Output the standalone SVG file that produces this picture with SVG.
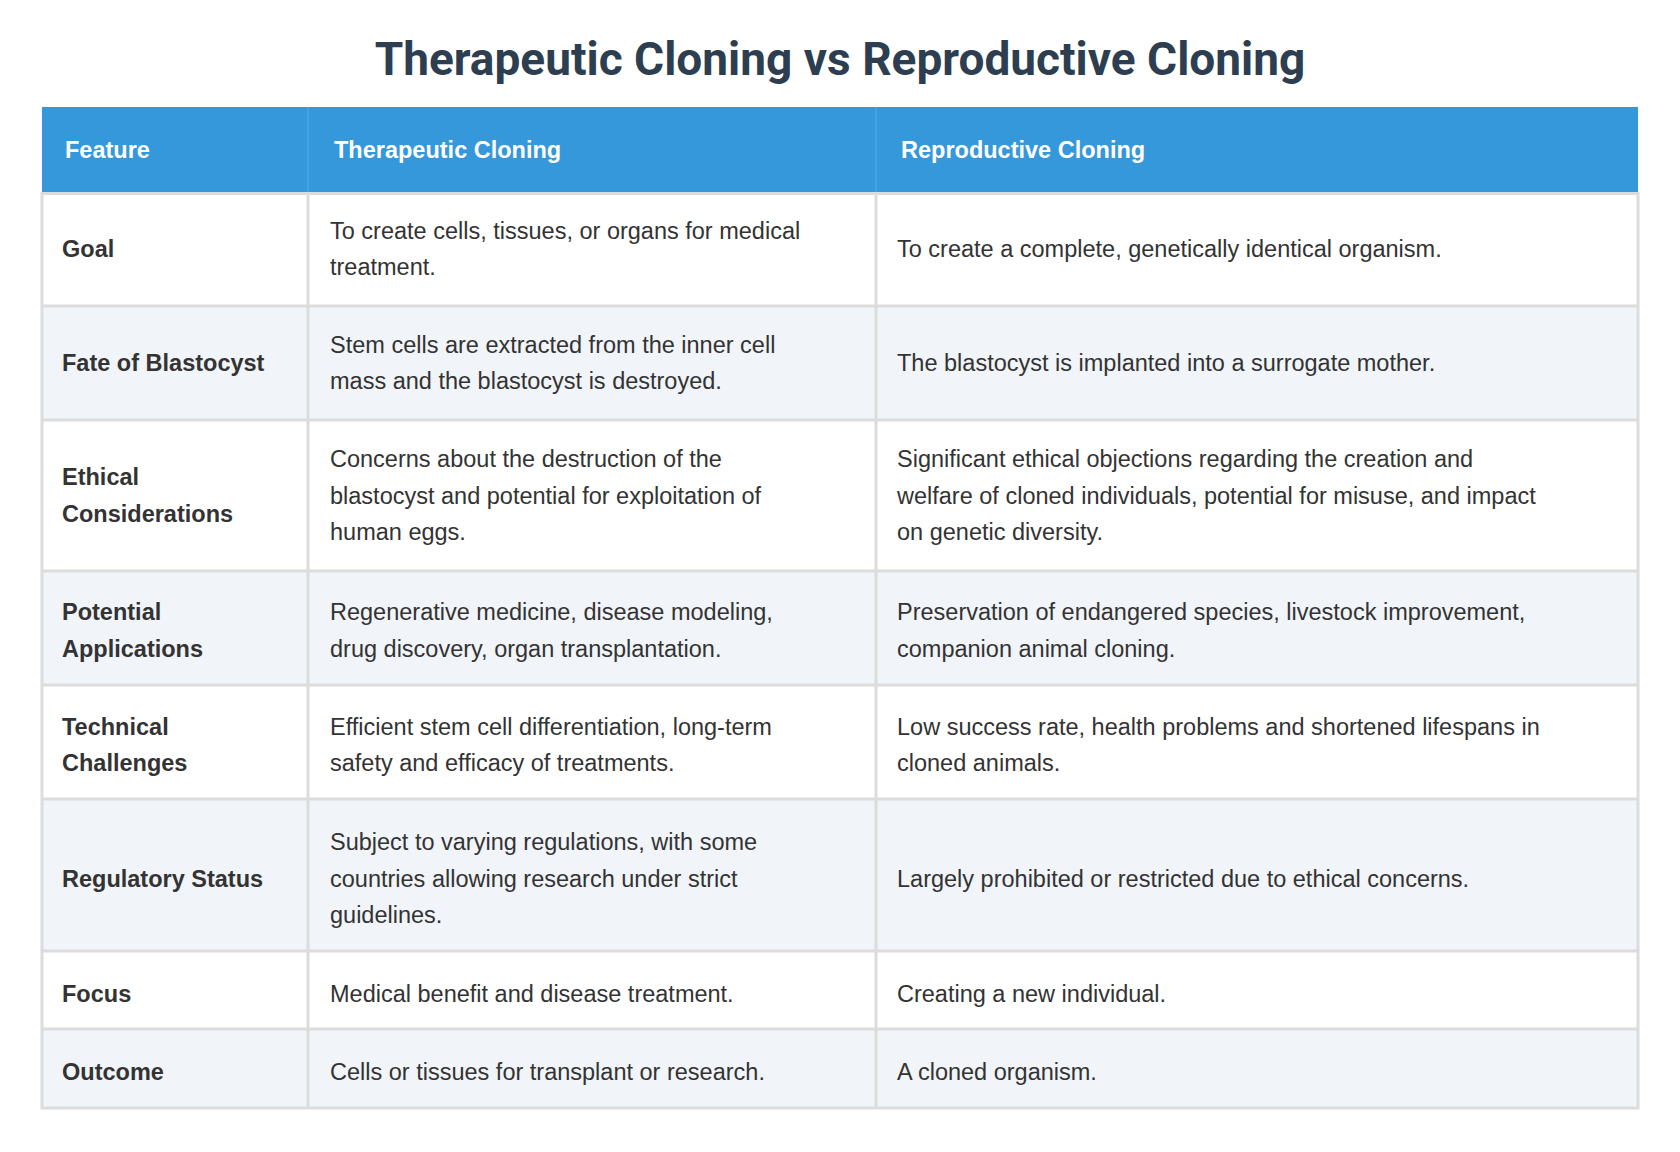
<svg xmlns="http://www.w3.org/2000/svg" width="1680" height="1152" viewBox="0 0 1680 1152">
<style>
.t{font-family:"Liberation Sans",Arial,sans-serif;font-size:23.5px;fill:#333}
.b{font-weight:bold}
.h{font-family:"Liberation Sans",Arial,sans-serif;font-size:23.5px;font-weight:bold;fill:#fff}
.ti{font-family:Roboto,"Liberation Sans",sans-serif;font-size:46px;font-weight:bold;fill:#2c3e50}
.w{fill:#fff}.g{fill:#f1f4f9}
.ln{stroke:#dcdcdc;stroke-width:3;fill:none}
</style>
<rect width="1680" height="1152" fill="#fff"/>
<text class="ti" x="840" y="75" text-anchor="middle">Therapeutic Cloning vs Reproductive Cloning</text>
<g id="header">
<rect x="42" y="107" width="1596" height="85" fill="#3498db"/>
<line x1="308" y1="107" x2="308" y2="192" stroke="#4aa3e0" stroke-width="1.5"/>
<line x1="876" y1="107" x2="876" y2="192" stroke="#4aa3e0" stroke-width="1.5"/>
<text class="h" x="65" y="157.5">Feature</text>
<text class="h" x="334" y="157.5">Therapeutic Cloning</text>
<text class="h" x="901" y="157.5">Reproductive Cloning</text>
</g>
<g id="rows">
<rect class="w" x="42" y="192" width="1596" height="114"/>
<rect class="g" x="42" y="306" width="1596" height="114"/>
<rect class="w" x="42" y="420" width="1596" height="151"/>
<rect class="g" x="42" y="571" width="1596" height="114"/>
<rect class="w" x="42" y="685" width="1596" height="114"/>
<rect class="g" x="42" y="799" width="1596" height="152"/>
<rect class="w" x="42" y="951" width="1596" height="78"/>
<rect class="g" x="42" y="1029" width="1596" height="79"/>
</g>
<g id="connectors">
<path class="ln" d="M42 192V1108H1638V192M308 192V1108M876 192V1108M42 193.5H1638M42 306H1638M42 420H1638M42 571H1638M42 685H1638M42 799H1638M42 951H1638M42 1029H1638"/>
</g>
<g id="row-goal">
<text class="t b" x="62" y="257">Goal</text>
<text class="t" x="330" y="239">To create cells, tissues, or organs for medical</text>
<text class="t" x="330" y="275">treatment.</text>
<text class="t" x="897" y="257">To create a complete, genetically identical organism.</text>
</g>
<g id="row-fate">
<text class="t b" x="62" y="371">Fate of Blastocyst</text>
<text class="t" x="330" y="353">Stem cells are extracted from the inner cell</text>
<text class="t" x="330" y="389">mass and the blastocyst is destroyed.</text>
<text class="t" x="897" y="371">The blastocyst is implanted into a surrogate mother.</text>
</g>
<g id="row-ethical">
<text class="t b" x="62" y="485">Ethical</text>
<text class="t b" x="62" y="522">Considerations</text>
<text class="t" x="330" y="467">Concerns about the destruction of the</text>
<text class="t" x="330" y="504">blastocyst and potential for exploitation of</text>
<text class="t" x="330" y="540">human eggs.</text>
<text class="t" x="897" y="467">Significant ethical objections regarding the creation and</text>
<text class="t" x="897" y="504">welfare of cloned individuals, potential for misuse, and impact</text>
<text class="t" x="897" y="540">on genetic diversity.</text>
</g>
<g id="row-potential">
<text class="t b" x="62" y="620">Potential</text>
<text class="t b" x="62" y="657">Applications</text>
<text class="t" x="330" y="620">Regenerative medicine, disease modeling,</text>
<text class="t" x="330" y="657">drug discovery, organ transplantation.</text>
<text class="t" x="897" y="620">Preservation of endangered species, livestock improvement,</text>
<text class="t" x="897" y="657">companion animal cloning.</text>
</g>
<g id="row-technical">
<text class="t b" x="62" y="735">Technical</text>
<text class="t b" x="62" y="771">Challenges</text>
<text class="t" x="330" y="735">Efficient stem cell differentiation, long-term</text>
<text class="t" x="330" y="771">safety and efficacy of treatments.</text>
<text class="t" x="897" y="735">Low success rate, health problems and shortened lifespans in</text>
<text class="t" x="897" y="771">cloned animals.</text>
</g>
<g id="row-regulatory">
<text class="t b" x="62" y="887">Regulatory Status</text>
<text class="t" x="330" y="850">Subject to varying regulations, with some</text>
<text class="t" x="330" y="887">countries allowing research under strict</text>
<text class="t" x="330" y="923">guidelines.</text>
<text class="t" x="897" y="887">Largely prohibited or restricted due to ethical concerns.</text>
</g>
<g id="row-focus">
<text class="t b" x="62" y="1002">Focus</text>
<text class="t" x="330" y="1002">Medical benefit and disease treatment.</text>
<text class="t" x="897" y="1002">Creating a new individual.</text>
</g>
<g id="row-outcome">
<text class="t b" x="62" y="1080">Outcome</text>
<text class="t" x="330" y="1080">Cells or tissues for transplant or research.</text>
<text class="t" x="897" y="1080">A cloned organism.</text>
</g>
</svg>
